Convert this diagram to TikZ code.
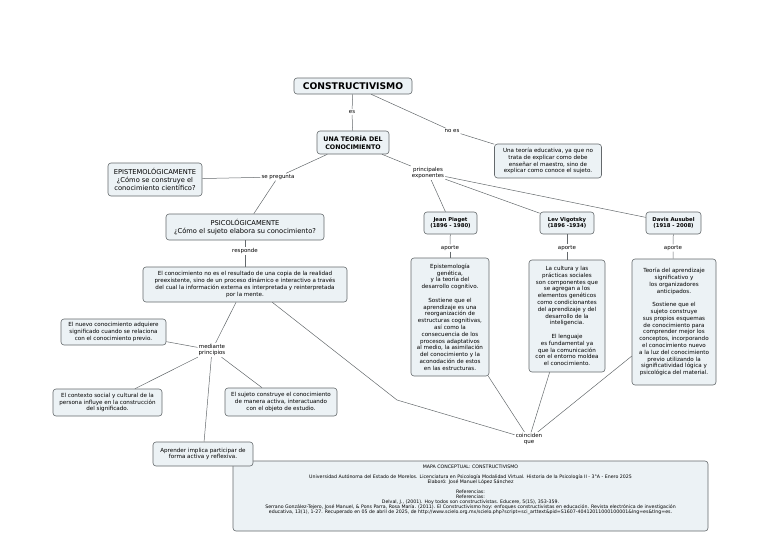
\documentclass[tikz,border=0pt]{standalone}
\usepackage{fontspec}
\setmainfont{DejaVu Sans}
\definecolor{mapfill}{RGB}{236,242,245}
\definecolor{mapline}{RGB}{100,105,108}
\usepackage{tikz}
\usetikzlibrary{positioning}

\begin{document}
\begin{tikzpicture}[
  x=1pt, y=-1pt,
  concept/.style={draw=mapline, fill=mapfill, rounded corners=3pt, line width=0.6pt,
                  align=center, inner sep=2pt, font=\fontsize{5.6}{6.8}\selectfont},
  question/.style={concept, font=\fontsize{6.7}{8.3}\selectfont},
  keyconcept/.style={concept, font=\bfseries\fontsize{6.3}{7.6}\selectfont},
  author/.style={concept, font=\bfseries\fontsize{5.3}{6.4}\selectfont,
                 minimum height=22pt},
  linkword/.style={inner sep=1pt, align=center, font=\fontsize{5.5}{6.5}\selectfont},
  edge/.style={draw=mapline, line width=0.5pt}
]
\useasboundingbox (0,0) rectangle (768,543);

\node[concept, font=\bfseries\fontsize{9.2}{10}\selectfont,
      minimum width=118pt, minimum height=16pt] (constr) at (353,86) {CONSTRUCTIVISMO};
\node[linkword] (es) at (352,112) {es};
\node[keyconcept, minimum width=72pt, minimum height=23pt] (teoria) at (353,142.5)
  {UNA TEORÍA DEL\\CONOCIMIENTO};
\node[linkword] (noes) at (452,131) {no es};
\node[concept, minimum width=107pt, minimum height=34pt] (educativa) at (548,161)
  {Una teoría educativa, ya que no\\trata de explicar como debe\\enseñar el maestro, sino de\\explicar como conoce el sujeto.};

\node[linkword] (pregunta) at (278,177) {se pregunta};
\node[question, minimum width=94pt, minimum height=33pt] (episte) at (155,179.5)
  {EPISTEMOLÓGICAMENTE\\¿Cómo se construye el\\conocimiento científico?};
\node[question, minimum width=158pt, minimum height=26pt] (psico) at (245,227)
  {PSICOLÓGICAMENTE\\¿Cómo el sujeto elabora su conocimiento?};
\node[linkword] (responde) at (245,251) {responde};
\node[concept, minimum width=204pt, minimum height=35pt] (proceso) at (245,284.5)
  {El conocimiento no es el resultado de una copia de la realidad\\preexistente, sino de un proceso dinámico e interactivo a través\\del cual la información externa es interpretada y reinterpretada\\por la mente.};

\node[linkword] (exponentes) at (428,173) {principales\\exponentes};
\node[author, minimum width=53pt] (piaget) at (450.5,223) {Jean Piaget\\(1896 - 1980)};
\node[author, minimum width=54pt] (vigotsky) at (567,223) {Lev Vigotsky\\(1896 -1934)};
\node[author, minimum width=55pt] (ausubel) at (673.5,223) {Davis Ausubel\\(1918 - 2008)};
\node[linkword] (aporte1) at (450,248) {aporte};
\node[linkword] (aporte2) at (567,248) {aporte};
\node[linkword] (aporte3) at (673,248) {aporte};

\node[concept, minimum width=78pt, minimum height=118pt] (piagettx) at (450,317)
  {Epistemología\\genética,\\y la teoría del\\desarrollo cognitivo.\\[6.8pt]
   Sostiene que el\\aprendizaje es una\\reorganización de\\estructuras cognitivas,\\así como la\\consecuencia de los\\procesos adaptativos\\al medio, la asimilación\\del conocimiento y la\\aconodación de estos\\en las estructuras.};
\node[concept, minimum width=76pt, minimum height=112pt] (vigotskytx) at (567,316)
  {La cultura y las\\prácticas sociales\\son componentes que\\se agregan a los\\elementos genéticos\\como condicionantes\\del aprendizaje y del\\desarrollo de la\\inteligencia.\\[6.8pt]
   El lenguaje\\es fundamental ya\\que la comunicación\\con el entorno moldea\\el conocimiento.};
\node[concept, minimum width=84pt, minimum height=126pt] (ausubeltx) at (674,322)
  {Teoría del aprendizaje\\significativo y\\los organizadores\\anticipados.\\[6.8pt]
   Sostiene que el\\sujeto construye\\sus propios esquemas\\de conocimiento para\\comprender mejor los\\conceptos, incorporando\\el conocimiento nuevo\\a la luz del conocimiento\\previo utilizando la\\significatividad lógica y\\psicológica del material.};

\node[linkword] (principios) at (212,350) {mediante\\principios};
\node[concept, minimum width=105pt, minimum height=26pt] (nuevo) at (113.5,332)
  {El nuevo conocimiento adquiere\\significado cuando se relaciona\\con el conocimiento previo.};
\node[concept, minimum width=109pt, minimum height=27pt] (contexto) at (107.5,402.5)
  {El contexto social y cultural de la\\persona influye en la construcción\\del significado.};
\node[concept, minimum width=112pt, minimum height=28pt] (sujeto) at (281,402)
  {El sujeto construye el conocimiento\\de manera activa, interactuando\\con el objeto de estudio.};

\node[linkword] (coinciden) at (529,439) {coinciden\\que};
\coordinate (bend) at (397,400);

\node[concept, font=\fontsize{4.7}{5}\selectfont, minimum width=475pt, minimum height=70pt]
  (creditos) at (470.5,496)
  {MAPA CONCEPTUAL: CONSTRUCTIVISMO\\[5pt]
   Universidad Autónoma del Estado de Morelos. Licenciatura en Psicología Modalidad Virtual. Historia de la Psicología II - 3°A - Enero 2025\\
   Elaboró: José Manuel López Sánchez\\[5pt]
   Referencias:\\Referencias:\\
   Delval, J.,  (2001). Hoy todos son constructivistas. Educere, 5(15), 353-359.\\
   Serrano González-Tejero, José Manuel, \& Pons Parra, Rosa María. (2011). El Constructivismo hoy: enfoques constructivistas en educación. Revista electrónica de investigación\\
   educativa, 13(1), 1-27. Recuperado en 05 de abril de 2025, de http://www.scielo.org.mx/scielo.php?script=sci\_arttext\&pid=S1607-40412011000100001\&lng=es\&tlng=es.\\[8pt]\mbox{}};
\node[concept, minimum width=100pt, minimum height=24pt] (aprender) at (203,454)
  {Aprender implica participar de\\forma activa y reflexiva.};

\draw[edge] (constr) -- (es);          \draw[edge] (es) -- (teoria);
\draw[edge] (constr) -- (noes);        \draw[edge] (noes) -- (educativa);
\draw[edge] (teoria) -- (pregunta);    \draw[edge] (pregunta) -- (episte);
\draw[edge] (pregunta) -- (psico);
\draw[edge] (psico) -- (responde);     \draw[edge] (responde) -- (proceso);
\draw[edge] (teoria) -- (exponentes);
\draw[edge] (exponentes) -- (piaget);  \draw[edge] (exponentes) -- (vigotsky);
\draw[edge] (exponentes) -- (ausubel);
\draw[edge] (piaget) -- (aporte1);     \draw[edge] (aporte1) -- (piagettx);
\draw[edge] (vigotsky) -- (aporte2);   \draw[edge] (aporte2) -- (vigotskytx);
\draw[edge] (ausubel) -- (aporte3);    \draw[edge] (aporte3) -- (ausubeltx);
\draw[edge] (proceso) -- (principios);
\draw[edge] (principios) -- (nuevo);   \draw[edge] (principios) -- (contexto);
\draw[edge] (principios) -- (sujeto);  \draw[edge] (principios) -- (aprender);
\draw[edge] (proceso.south east) ++(-75,0) -- (bend) -- (coinciden);
\draw[edge] (piagettx) -- (coinciden); \draw[edge] (vigotskytx) -- (coinciden);
\draw[edge] (ausubeltx) -- (coinciden);

\end{tikzpicture}
\end{document}
